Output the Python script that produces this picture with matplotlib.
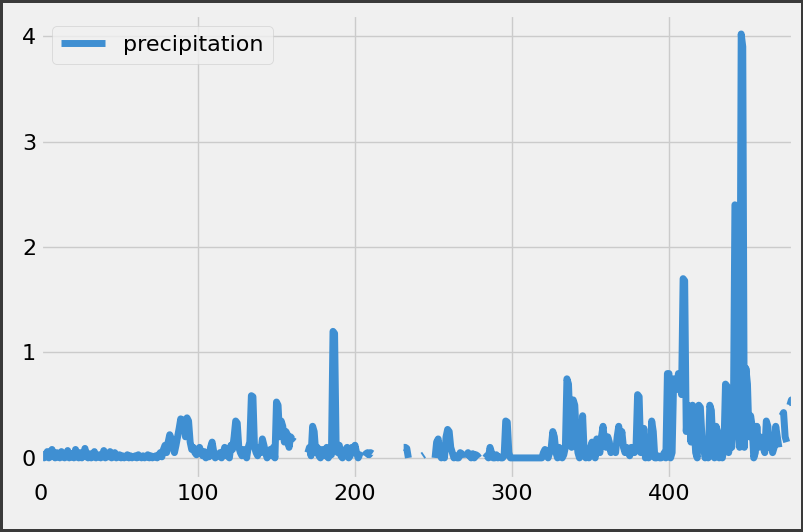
import numpy as np
import pandas as pd
import matplotlib
matplotlib.use("Agg")
import matplotlib.pyplot as plt

nan = np.nan

# daily precipitation readings, index 0..479
precip = [
    0.05, 0.02, 0.0, 0.03, 0.06, 0.0, 0.01, 0.08, 0.02, 0.0, 0.05, 0.01, 0.0, 0.06, 0.03, 0.0, 0.02, 0.07, 0.0, 0.01,
    0.04, 0.0, 0.08, 0.02, 0.0, 0.05, 0.0, 0.03, 0.09, 0.01, 0.0, 0.04, 0.0, 0.02, 0.06, 0.0, 0.01, 0.03, 0.0, 0.02,
    0.07, 0.0, 0.03, 0.01, 0.06, 0.0, 0.02, 0.05, 0.0, 0.01, 0.03, 0.0, 0.02, 0.0, 0.01, 0.03, 0.0, 0.02, 0.0, 0.01,
    0.02, 0.0, 0.03, 0.01, 0.0, 0.02, 0.0, 0.01, 0.03, 0.0, 0.02, 0.0, 0.01, 0.02, 0.0, 0.03, 0.05, 0.01, 0.08, 0.12,
    0.05, 0.15, 0.22, 0.18, 0.1, 0.05, 0.12, 0.2, 0.28, 0.37, 0.3, 0.36, 0.2, 0.38, 0.35, 0.15, 0.08, 0.1, 0.05, 0.03,
    0.08, 0.1, 0.05, 0.02, 0.06, 0.0, 0.04, 0.01, 0.1, 0.15, 0.06, 0.0, 0.03, 0.02, 0.05, 0.0, 0.04, 0.1, 0.02, 0.05,
    0.0, 0.12, 0.08, 0.2, 0.35, 0.33, 0.1, 0.05, 0.02, 0.08, 0.04, 0.0, 0.1, 0.15, 0.59, 0.58, 0.1, 0.05, 0.02, 0.1,
    0.05, 0.18, 0.12, 0.05, 0.0, 0.03, 0.08, 0.02, 0.1, 0.0, 0.53, 0.5, 0.2, 0.35, 0.3, 0.15, 0.25, 0.22, 0.1, 0.2,
    0.18, 0.2, nan, nan, nan, nan, nan, nan, nan, nan, 0.05, 0.1, 0.02, 0.3, 0.25, 0.05, 0.1, 0.02, 0.0, 0.08,
    0.05, 0.02, 0.1, 0.0, 0.05, 0.03, 1.2, 1.18, 0.1, 0.05, 0.12, 0.02, 0.0, 0.05, 0.08, 0.1, 0.0, 0.02, 0.1, 0.05,
    0.12, 0.05, 0.0, 0.03, 0.01, nan, 0.02, 0.04, 0.05, 0.03, 0.05, 0.04, nan, nan, nan, nan, nan, nan, nan, nan,
    nan, nan, nan, nan, nan, nan, nan, 0.02, nan, nan, nan, 0.1, 0.1, 0.09, 0.0, nan, nan, nan, nan, nan,
    nan, nan, nan, 0.02, 0.03, nan, nan, nan, nan, nan, nan, 0.0, 0.15, 0.18, 0.05, 0.0, 0.1, 0.0, 0.2, 0.27,
    0.25, 0.1, 0.05, 0.0, 0.02, 0.0, 0.0, 0.05, 0.04, 0.0, nan, 0.0, 0.05, 0.02, 0.0, 0.04, 0.0, 0.03, 0.02, 0.0,
    nan, nan, nan, 0.0, 0.02, 0.0, 0.1, 0.05, 0.0, 0.0, 0.03, 0.0, 0.01, 0.0, 0.0, 0.02, 0.35, 0.34, 0.05, 0.0,
    0.0, 0.0, 0.0, 0.0, 0.0, 0.0, 0.0, 0.0, 0.0, 0.0, 0.0, 0.0, 0.0, 0.0, 0.0, 0.0, 0.0, 0.0, 0.0, 0.0,
    0.05, 0.08, 0.03, 0.0, 0.05, 0.1, 0.25, 0.2, 0.05, 0.0, 0.1, 0.05, 0.0, 0.03, 0.1, 0.75, 0.7, 0.3, 0.1, 0.55,
    0.5, 0.2, 0.05, 0.0, 0.1, 0.4, 0.05, 0.0, 0.02, 0.0, 0.1, 0.15, 0.05, 0.0, 0.18, 0.1, 0.05, 0.2, 0.3, 0.15,
    0.1, 0.2, 0.15, 0.05, 0.1, 0.1, 0.05, 0.2, 0.3, 0.15, 0.25, 0.1, 0.05, 0.1, 0.05, 0.02, 0.1, 0.08, 0.05, 0.1,
    0.6, 0.58, 0.05, 0.1, 0.28, 0.0, 0.05, 0.0, 0.02, 0.35, 0.25, 0.0, 0.0, 0.02, 0.0, 0.0, 0.02, 0.05, 0.0, 0.8,
    0.8, 0.0, 0.05, 0.75, 0.7, 0.65, 0.8, 0.72, 0.6, 1.7, 1.68, 0.25, 0.5, 0.45, 0.15, 0.5, 0.3, 0.05, 0.0, 0.5,
    0.48, 0.2, 0.1, 0.0, 0.05, 0.0, 0.5, 0.45, 0.1, 0.0, 0.3, 0.25, 0.0, 0.05, 0.0, 0.1, 0.7, 0.68, 0.05, 0.2,
    0.1, 0.3, 2.4, 2.38, 0.5, 0.1, 4.02, 3.9, 0.1, 0.85, 0.7, 0.2, 0.4, 0.3, 0.0, 0.05, 0.3, 0.1, 0.2, 0.15,
    0.1, 0.05, 0.35, 0.3, 0.1, 0.15, 0.05, 0.1, 0.3, 0.2, 0.1, nan, 0.4, 0.43, 0.2, 0.15, nan, 0.5, 0.55, 0.5,
]

plt.style.use("fivethirtyeight")

df = pd.DataFrame({"precipitation": precip})

fig = plt.figure(figsize=(8.04, 5.32), dpi=100, facecolor="#f0f0f0",
                 edgecolor="#3a3a3a", linewidth=3)
ax = fig.add_axes([41 / 804, 53 / 532, 752 / 804, 464 / 532])
df.plot(ax=ax, color="#3f8fd2", linewidth=5)
ax.set_xlim(0, len(precip) - 1)
ax.set_ylim(-0.2, 4.2)
ax.set_yticks([0, 1, 2, 3, 4])
ax.tick_params(labelsize=16)
ax.legend(loc="upper left", fontsize=16)

fig.savefig("out.png", dpi=100, facecolor=fig.get_facecolor(), edgecolor=fig.get_edgecolor())
